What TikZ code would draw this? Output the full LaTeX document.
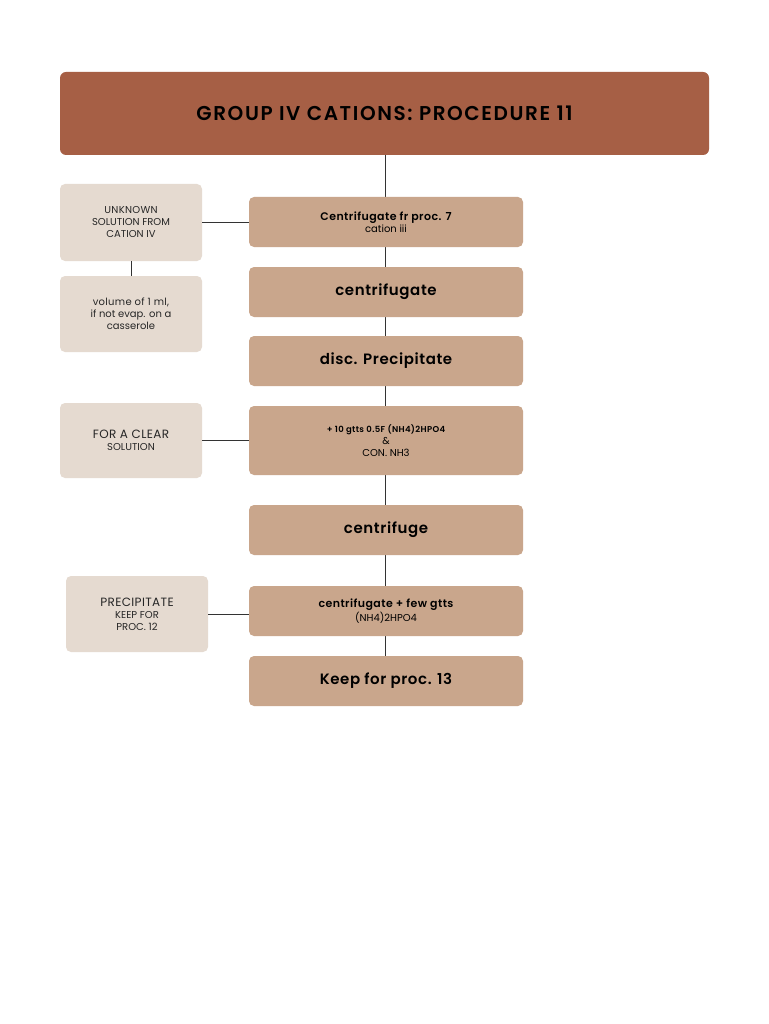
\documentclass[tikz,border=0pt]{standalone}
\usepackage{fontspec}
\setmainfont{Poppins}
\newfontfamily\titlefont[LetterSpace=8]{Poppins SemiBold}
\newfontfamily\boldf[LetterSpace=4]{Poppins SemiBold}
\newfontfamily\lightf[LetterSpace=3]{Poppins}
\definecolor{titlec}{HTML}{A65F45}
\definecolor{mainc}{HTML}{C9A68C}
\definecolor{sidec}{HTML}{E5DAD0}
\definecolor{linec}{HTML}{333333}
\begin{document}
\begin{tikzpicture}[x=1pt,y=-1pt,
  box/.style={rounded corners=5pt,fill=mainc,draw=none,align=center,inner sep=0pt},
  side/.style={rounded corners=5pt,fill=sidec,draw=none,align=center,inner sep=0pt,text=black!85},
  ln/.style={draw=linec,line width=1pt}]
\useasboundingbox (0,0) rectangle (768,1024);
\fill[white] (0,0) rectangle (768,1024);
\draw[ln] (385,155) -- (385,656);
\node[box,fill=titlec,minimum width=649pt,minimum height=83pt,rounded corners=6pt] (t) at (384.5,113.5) {\titlefont\fontsize{20}{24}\selectfont GROUP IV CATIONS: PROCEDURE 11};
\node[box,minimum width=274pt,minimum height=50pt] (b1) at (386,222) {\boldf\fontsize{11}{14}\selectfont Centrifugate fr proc. 7\\ cation iii};
\node[box,minimum width=274pt,minimum height=50pt] (b2) at (386,292) {\boldf\fontsize{15}{18}\selectfont centrifugate};
\node[box,minimum width=274pt,minimum height=50pt] (b3) at (386,361) {\boldf\fontsize{15}{18}\selectfont disc. Precipitate};
\node[box,minimum width=274pt,minimum height=69pt] (b4) at (386,440.5) {\boldf\fontsize{8.5}{11}\selectfont + 10 gtts 0.5F (NH4)2HPO4\\ \&\\ CON. NH3};
\node[box,minimum width=274pt,minimum height=50pt] (b5) at (386,530) {\boldf\fontsize{15}{18}\selectfont centrifuge};
\node[box,minimum width=274pt,minimum height=50pt] (b6) at (386,611) {\boldf\fontsize{11}{14}\selectfont centrifugate + few gtts\\ (NH4)2HPO4};
\node[box,minimum width=274pt,minimum height=50pt] (b7) at (386,681) {\boldf\fontsize{15}{18}\selectfont Keep for proc. 13};
\node[side,minimum width=142pt,minimum height=77pt] (s1) at (131,222.5) {\lightf\fontsize{10}{14.5}\selectfont UNKNOWN\\ SOLUTION FROM\\ CATION IV};
\node[side,minimum width=142pt,minimum height=76pt] (s2) at (131,314) {\lightf\fontsize{10}{14.5}\selectfont volume of 1 ml,\\ if not evap. on a\\ casserole};
\node[side,minimum width=142pt,minimum height=75pt] (s3) at (131,440.5) {\lightf\fontsize{12}{17}\selectfont FOR A CLEAR\\ SOLUTION};
\node[side,minimum width=142pt,minimum height=76pt] (s4) at (137,614) {\lightf\fontsize{12}{17}\selectfont PRECIPITATE\\ KEEP FOR\\ PROC. 12};
\draw[ln] (s1.east) -- (s1.east -| b1.west);
\draw[ln] (s1.south) -- (s2.north);
\draw[ln] (s3.east) -- (s3.east -| b4.west);
\draw[ln] (s4.east) -- (s4.east -| b6.west);
\end{tikzpicture}
\end{document}
